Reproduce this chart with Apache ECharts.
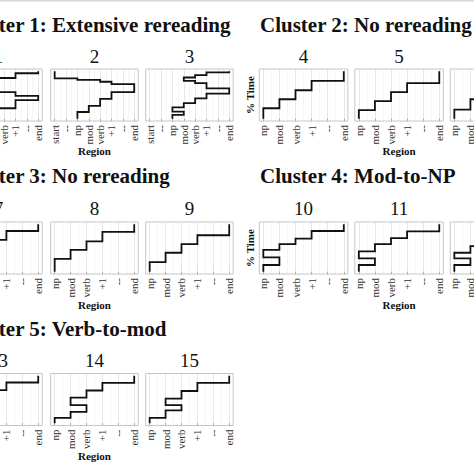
<!DOCTYPE html>
<html>
<head>
<meta charset="utf-8">
<script src="https://cdn.jsdelivr.net/npm/echarts@6/dist/echarts.min.js"></script>
<style>
html,body{margin:0;padding:0;background:#fff;}
#chart{width:474px;height:474px;}
</style>
</head>
<body>
<div id="chart"></div>
<script>
// ---- data ----
const regions8 = ['start','--','np','mod','verb','+1','--','end'];
const regions6 = ['np','mod','verb','+1','--','end'];

const clusterTitles = ['Cluster 1: Extensive rereading','Cluster 2: No rereading','Cluster 3: No rereading','Cluster 4: Mod-to-NP','Cluster 5: Verb-to-mod'];
const panelNumbers = ['1','2','3','4','5','6','7','8','9','10','11','12','13','14','15'];

const p1Path  = ['np','mod','+1','end','+1','np','start','+1','end'];
const p1Times = [0,10,22,39,48,56,72,86,96,100];
const p2Path  = ['np','mod','verb','+1','end','+1','verb','np','start'];
const p2Times = [0,14,27,42,56,73,78,82,85,100];
const p3Path  = ['np','mod','np','mod','verb','+1','end','+1','verb','mod','verb','+1','end'];
const p3Times = [0,8,15,24,33,43,53,64,75,80,87,92,98,100];
const p4Path  = ['np','mod','verb','+1','end'];
const p4Times = [0,22,41,60,80,100];
const p5Path  = ['np','mod','verb','+1','end'];
const p5Times = [0,18,37,56,75,100];
const p6Path  = ['np','mod','verb','+1','end'];
const p6Times = [0,19,41,60,80,100];
const p7Path  = ['np','mod','verb','+1','end'];
const p7Times = [0,20,45,67,86,100];
const p8Path  = ['np','mod','verb','+1','end'];
const p8Times = [0,27,46,64,84,100];
const p9Path  = ['np','mod','verb','+1','end'];
const p9Times = [0,20,40,58,77,100];
const p10Path  = ['np','mod','np','mod','verb','+1','end'];
const p10Times = [0,14,30,46,58,70,86,100];
const p11Path  = ['np','mod','np','mod','verb','+1','end'];
const p11Times = [0,14,28,43,58,71,85,100];
const p12Path  = ['np','mod','np','mod','verb','+1','end'];
const p12Times = [0,14,28,40,54,70,85,100];
const p13Path  = ['np','mod','verb','mod','verb','+1','end'];
const p13Times = [0,14,28,40,54,70,86,100];
const p14Path  = ['np','mod','verb','mod','verb','+1','end'];
const p14Times = [0,11,24,38,54,69,85,100];
const p15Path  = ['np','mod','verb','mod','verb','+1','end'];
const p15Times = [0,11,27,38,52,68,85,100];

// ---- layout ----
const SERIF = "'Liberation Serif','Times New Roman',serif";
const BOX_H = 52;
const rowTops = [69, 222, 373.5];
const leftCols = [-45.3, 50.7, 145.7], W_L = 87.5;
const rightCols = [259.3, 354.8, 450.3], W_R = 88.5;

const panels = [
  {path:p1Path, times:p1Times, cats:regions8, row:0, left:leftCols[0], w:W_L},
  {path:p2Path, times:p2Times, cats:regions8, row:0, left:leftCols[1], w:W_L, region:true},
  {path:p3Path, times:p3Times, cats:regions8, row:0, left:leftCols[2], w:W_L},
  {path:p4Path, times:p4Times, cats:regions6, row:0, left:rightCols[0], w:W_R, ylab:true},
  {path:p5Path, times:p5Times, cats:regions6, row:0, left:rightCols[1], w:W_R, region:true},
  {path:p6Path, times:p6Times, cats:regions6, row:0, left:rightCols[2], w:W_R},
  {path:p7Path, times:p7Times, cats:regions6, row:1, left:leftCols[0], w:W_L},
  {path:p8Path, times:p8Times, cats:regions6, row:1, left:leftCols[1], w:W_L, region:true},
  {path:p9Path, times:p9Times, cats:regions6, row:1, left:leftCols[2], w:W_L},
  {path:p10Path, times:p10Times, cats:regions6, row:1, left:rightCols[0], w:W_R, ylab:true},
  {path:p11Path, times:p11Times, cats:regions6, row:1, left:rightCols[1], w:W_R, region:true},
  {path:p12Path, times:p12Times, cats:regions6, row:1, left:rightCols[2], w:W_R},
  {path:p13Path, times:p13Times, cats:regions6, row:2, left:leftCols[0], w:W_L},
  {path:p14Path, times:p14Times, cats:regions6, row:2, left:leftCols[1], w:W_L, region:true},
  {path:p15Path, times:p15Times, cats:regions6, row:2, left:leftCols[2], w:W_L}
];

const titleY = [25, 176, 329];
const numberY = [56.5, 208.5, 360];
const regionY = [151, 305, 455.5];

const grids = [], xAxes = [], yAxes = [], series = [], graphics = [];

graphics.push({type:'rect', shape:{x:0,y:0,width:474,height:1.5}, style:{fill:'#d6d6d6'}, z:20});

panels.forEach((p, i) => {
  const top = rowTops[p.row];
  const pad = p.w * 0.05 / 1.1;
  const n = p.cats.length;
  grids.push({left: p.left + pad, top: top, width: p.w / 1.1, height: BOX_H,
    containLabel:false, outerBoundsMode:'none'});
  const cats = p.cats;
  xAxes.push({
    gridIndex:i, type:'value', min:0, max:n-1, interval:1,
    axisLine:{show:false},
    axisTick:{show:true, length:3, lineStyle:{color:'#9a9a9a', width:0.8}},
    axisLabel:{rotate:90, margin:4, fontSize:11, fontFamily:SERIF, color:'#333',
      showMinLabel:true, showMaxLabel:true, hideOverlap:false,
      formatter: v => cats[Math.round(v)]},
    splitLine:{show:true, lineStyle:{color:'#e2e2e2', width:0.8}},
    minorTick:{show:false, splitNumber:2},
    minorSplitLine:{show:true, lineStyle:{color:'#efefef', width:0.6}}
  });
  yAxes.push({gridIndex:i, type:'value', min:-5, max:105, show:false});
  const data = [];
  p.path.forEach((r, k) => {
    const xi = cats.indexOf(r);
    data.push([xi, p.times[k]]);
    data.push([xi, p.times[k+1]]);
  });
  series.push({type:'line', xAxisIndex:i, yAxisIndex:i, data:data, symbol:'none',
    clip:false, lineStyle:{color:'#111', width:1.8, join:'miter'}, silent:true});
  graphics.push({type:'rect', shape:{x:p.left, y:top, width:p.w, height:BOX_H},
    style:{fill:'none', stroke:'#c6c6c6', lineWidth:1}, z:10});
  graphics.push({type:'text', x:p.left + p.w/2, y:numberY[p.row],
    style:{text:panelNumbers[i], font:'19px ' + SERIF, fill:'#111', textAlign:'center', textVerticalAlign:'middle'}, z:10});
  if (p.region) {
    graphics.push({type:'text', x:p.left + p.w/2, y:regionY[p.row],
      style:{text:'Region', font:'bold 11px ' + SERIF, fill:'#111', textAlign:'center', textVerticalAlign:'middle'}, z:10});
  }
  if (p.ylab) {
    graphics.push({type:'text', x:250, y:top + BOX_H/2, rotation:Math.PI/2,
      style:{text:'% Time', font:'bold 11px ' + SERIF, fill:'#111', textAlign:'center', textVerticalAlign:'middle'}, z:10});
  }
});

const titlePos = [[-42,0],[260,0],[-42,1],[260,1],[-42,2]];
clusterTitles.forEach((t, k) => {
  graphics.push({type:'text', x:titlePos[k][0], y:titleY[titlePos[k][1]],
    style:{text:t, font:'bold 21px ' + SERIF, fill:'#111', textAlign:'left', textVerticalAlign:'middle'}, z:10});
});

const chart = echarts.init(document.getElementById('chart'), null, {renderer:'svg'});
chart.setOption({
  animation:false,
  backgroundColor:'#fff',
  grid:grids, xAxis:xAxes, yAxis:yAxes, series:series, graphic:graphics
});
</script>
</body>
</html>
